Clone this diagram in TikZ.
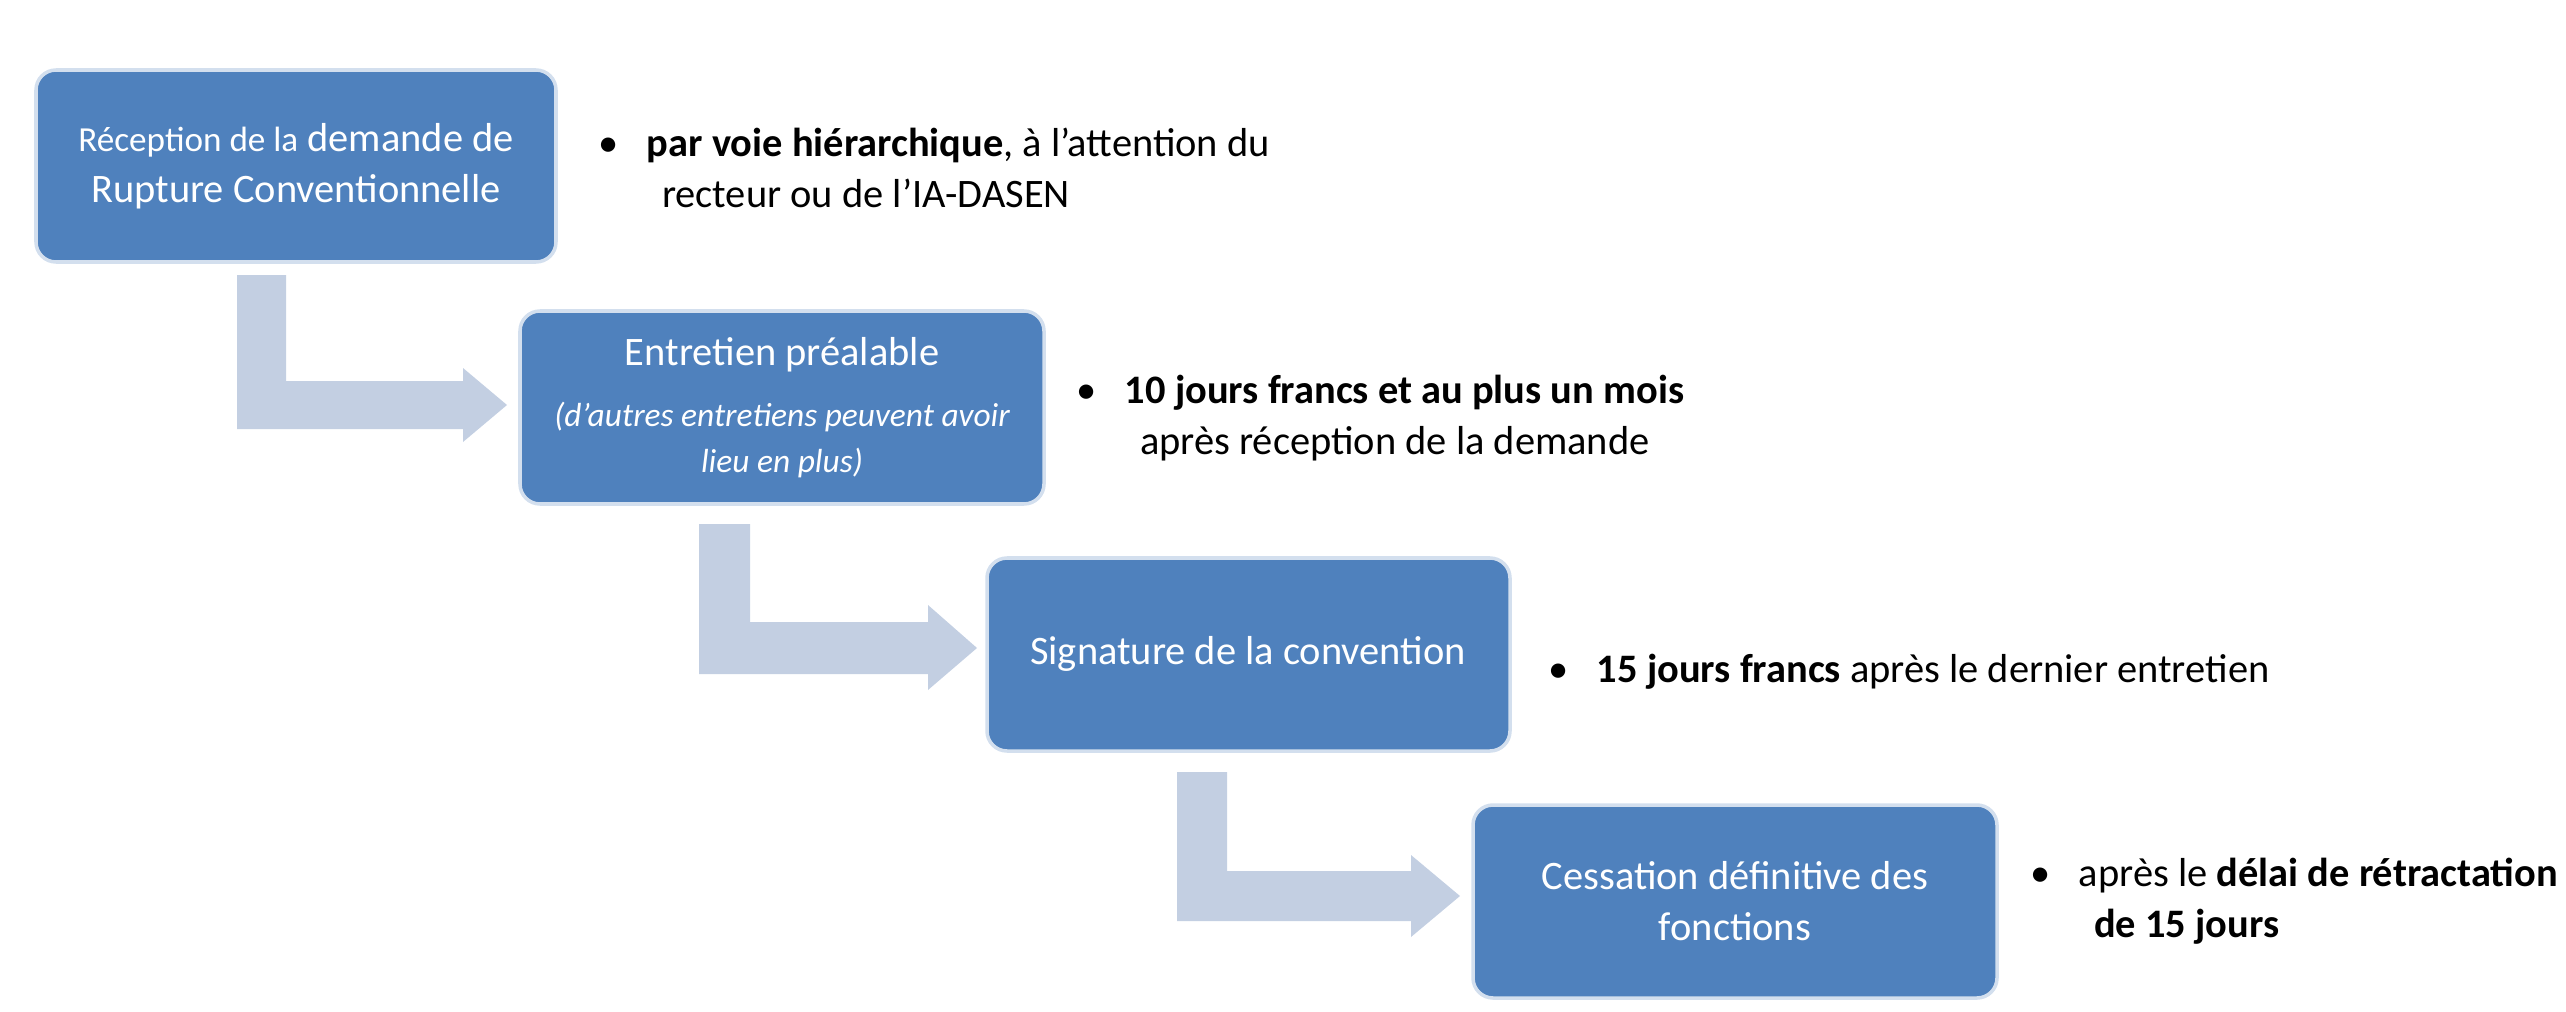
\documentclass[tikz,border=0pt]{standalone}
\usepackage{fontspec}
\setmainfont{Carlito}
\definecolor{boxblue}{HTML}{4F81BD}
\definecolor{arrowblue}{HTML}{C3CFE2}
\begin{document}
\begin{tikzpicture}[x=0.01cm,y=-0.01cm,
  stepbox/.style={draw=white!75!boxblue,line width=1pt,fill=boxblue,rounded corners=0.2cm},
  boxtext/.style={text=white,align=center,font=\fontsize{11.5}{14.5}\selectfont},
  bent/.style={fill=arrowblue,draw=none},
  note/.style={anchor=west,align=left,font=\fontsize{11.5}{14.5}\selectfont,inner sep=0pt}]
\useasboundingbox (0,0) rectangle (2566,1012);
\path[stepbox] (36,70) rectangle (556,262);
\node[boxtext] (b1) at (296,166) {{\fontsize{10}{14.5}\selectfont Réception de la} demande de\\Rupture Conventionnelle};
\path[stepbox] (520,311) rectangle (1044,504);
\node[boxtext] (b2) at (782,355) {Entretien préalable};
\node[boxtext,font=\fontsize{9.5}{13}\selectfont\itshape] (b2b) at (782,440) {(d'autres entretiens peuvent avoir\\lieu en plus)};
\path[stepbox] (987,558) rectangle (1510,751);
\node[boxtext] (b3) at (1248,654) {Signature de la convention};
\path[stepbox] (1473,805) rectangle (1997,998);
\node[boxtext] (b4) at (1735,901) {Cessation définitive des\\fonctions};
% bent arrows
\path[bent] (237,275) -- (286,275) -- (286,381) -- (463,381) -- (463,368) -- (507,405) -- (463,442) -- (463,429) -- (237,429) -- cycle;
\path[bent] (699,524) -- (750,524) -- (750,622) -- (928,622) -- (928,605) -- (977,648) -- (928,690) -- (928,674) -- (699,674) -- cycle;
\path[bent] (1177,772) -- (1227,772) -- (1227,871) -- (1411,871) -- (1411,855) -- (1460,896) -- (1411,937) -- (1411,921) -- (1177,921) -- cycle;
% notes
\node[note] (n1) at (598,168) {\textbullet\hspace{8pt}\textbf{par voie hiérarchique}, à l'attention du\\\hspace{18pt}recteur ou de l'IA-DASEN};
\node[note] (n2) at (1076,418) {\textbullet\hspace{8pt}\textbf{10 jours francs et au plus un mois}\\\hspace{18pt}après réception de la demande};
\node[note] (n3) at (1548,672) {\textbullet\hspace{8pt}\textbf{15 jours francs} après le dernier entretien};
\node[note] (n4) at (2030,901) {\textbullet\hspace{8pt}après le \textbf{délai de rétractation}\\\hspace{18pt}\textbf{de 15 jours}};
\end{tikzpicture}
\end{document}
